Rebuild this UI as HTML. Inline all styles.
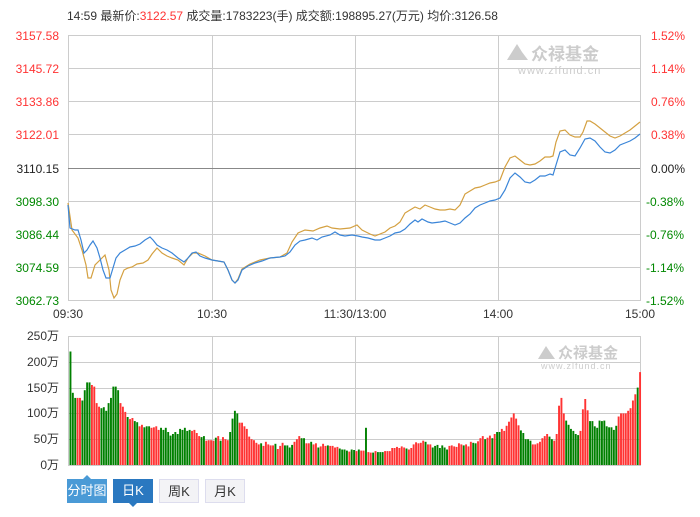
<!DOCTYPE html>
<html><head><meta charset="utf-8"><style>
html,body{margin:0;padding:0;background:#fff;width:700px;height:517px;overflow:hidden}
svg{display:block;font-family:"Liberation Sans","Noto Sans CJK SC",sans-serif}
.btn{position:absolute;top:479px;height:24px;width:40px;font:13px "Liberation Sans","Noto Sans CJK SC",sans-serif;line-height:24px;text-align:center;box-sizing:border-box}
</style></head><body>
<svg id="s" width="700" height="517" viewBox="0 0 700 517">
<text x="67" y="20" font-size="12" fill="#333">14:59 最新价:<tspan fill="#f33">3122.57</tspan> 成交量:1783223(手) 成交额:198895.27(万元) 均价:3126.58</text>
<g stroke="#ccc" stroke-width="1">
<line x1="68" y1="35.5" x2="640" y2="35.5"/><line x1="68" y1="68.5" x2="640" y2="68.5"/><line x1="68" y1="101.5" x2="640" y2="101.5"/><line x1="68" y1="134.5" x2="640" y2="134.5"/>
<line x1="68" y1="201.5" x2="640" y2="201.5"/><line x1="68" y1="234.5" x2="640" y2="234.5"/><line x1="68" y1="267.5" x2="640" y2="267.5"/><line x1="68" y1="300.5" x2="640" y2="300.5"/>
<line x1="68.5" y1="35" x2="68.5" y2="301"/><line x1="212.5" y1="35" x2="212.5" y2="301"/><line x1="355.5" y1="35" x2="355.5" y2="301"/><line x1="498.5" y1="35" x2="498.5" y2="301"/><line x1="640.5" y1="35" x2="640.5" y2="301"/>
<line x1="68" y1="336.5" x2="640" y2="336.5"/><line x1="68" y1="362.5" x2="640" y2="362.5"/><line x1="68" y1="388.5" x2="640" y2="388.5"/><line x1="68" y1="413.5" x2="640" y2="413.5"/><line x1="68" y1="439.5" x2="640" y2="439.5"/><line x1="68" y1="465.5" x2="640" y2="465.5"/>
<line x1="68.5" y1="336" x2="68.5" y2="466"/><line x1="212.5" y1="336" x2="212.5" y2="466"/><line x1="355.5" y1="336" x2="355.5" y2="466"/><line x1="498.5" y1="336" x2="498.5" y2="466"/><line x1="640.5" y1="336" x2="640.5" y2="466"/>
</g>
<line x1="68" y1="168.5" x2="640" y2="168.5" stroke="#888"/>
<g font-size="12" text-anchor="end">
<text x="59" y="40" fill="#f33">3157.58</text><text x="59" y="73" fill="#f33">3145.72</text><text x="59" y="106" fill="#f33">3133.86</text><text x="59" y="139" fill="#f33">3122.01</text>
<text x="59" y="173" fill="#222">3110.15</text><text x="59" y="206" fill="#080">3098.30</text><text x="59" y="239" fill="#080">3086.44</text><text x="59" y="272" fill="#080">3074.59</text><text x="59" y="305" fill="#080">3062.73</text>
</g>
<g font-size="12">
<text x="651" y="40" fill="#f33">1.52%</text><text x="651" y="73" fill="#f33">1.14%</text><text x="651" y="106" fill="#f33">0.76%</text><text x="651" y="139" fill="#f33">0.38%</text>
<text x="651" y="173" fill="#222">0.00%</text><text x="646" y="206" fill="#080">-0.38%</text><text x="646" y="239" fill="#080">-0.76%</text><text x="646" y="272" fill="#080">-1.14%</text><text x="646" y="305" fill="#080">-1.52%</text>
</g>
<g font-size="12" fill="#333" text-anchor="middle">
<text x="68" y="318">09:30</text><text x="212" y="318">10:30</text><text x="355" y="318">11:30/13:00</text><text x="498" y="318">14:00</text><text x="640" y="318">15:00</text>
</g>
<g font-size="12" fill="#333" text-anchor="end">
<text x="59" y="340">250万</text><text x="59" y="366">200万</text><text x="59" y="392">150万</text><text x="59" y="417">100万</text><text x="59" y="443">50万</text><text x="59" y="469">0万</text>
</g>
<g fill="#ccc"><path d="M507 60 L517 44 L522 52 L528 60 Z M512 60 L518 50"/>
<text x="531" y="60" font-size="17" font-weight="bold">众禄基金</text>
<text x="518" y="74" font-size="11" letter-spacing="1">www.zlfund.cn</text>
<path d="M538 359 L546 346 L550 352 L555 359 Z"/>
<text x="558" y="358" font-size="15" font-weight="bold">众禄基金</text>
<text x="541" y="369" font-size="9" letter-spacing="1">www.zlfund.cn</text></g>
<g id="bars"></g>
<polyline id="avg" fill="none" stroke="#d4a040" stroke-width="1.2"/>
<polyline id="pr" fill="none" stroke="#3a85d8" stroke-width="1.2"/>
</svg>
<div class="btn" style="left:67px;background:#4a9ad6;color:#fff">分时图</div>
<div style="position:absolute;left:83px;top:475px;width:0;height:0;border:4px solid transparent;border-top:0;border-bottom-color:#4a9ad6"></div>
<div class="btn" style="left:113px;background:#2a78c0;color:#fff">日K</div>
<div style="position:absolute;left:129px;top:503px;width:0;height:0;border:4px solid transparent;border-bottom:0;border-top-color:#2a78c0"></div>
<div class="btn" style="left:159px;background:#f3f3f6;border:1px solid #dde;color:#333">周K</div>
<div class="btn" style="left:205px;background:#f3f3f6;border:1px solid #dde;color:#333">月K</div>
<script>
var pr="68,205 70,228 75,230 78,230 81,240 84,253 87,250 90,245 93,241 97,248 100,258 103,270 106,278 110,278 113,268 116,258 120,253 125,250 130,247 135,246 140,244 145,240 150,237 153,240 157,245 162,248 167,250 172,253 178,258 184,262 188,258 192,253 196,252 200,256 205,258 212,260 218,261 224,262 228,270 232,280 235,283 238,280 242,270 248,266 255,263 262,261 270,258 280,257 285,256 290,252 295,245 300,241 305,240 312,238 317,240 322,237 330,235 335,232 340,235 345,236 352,235 358,236 362,237 368,238 375,240 380,240 385,238 390,236 395,233 400,232 405,229 410,224 415,220 418,222 422,219 428,222 432,223 440,222 445,221 450,223 455,225 460,223 465,218 470,214 475,208 480,205 485,203 490,201 495,200 500,198 505,190 510,178 515,173 520,177 525,182 530,183 535,180 540,176 545,176 550,174 553,175 556,165 560,152 565,150 570,155 575,156 580,148 585,139 590,138 595,141 600,147 605,152 610,153 615,150 620,145 625,143 630,141 635,138 640,134";
var av="68,203 72,230 78,238 82,250 86,265 88,278 91,278 95,265 100,260 105,255 109,270 111,290 114,298 117,294 120,280 124,270 128,268 132,267 137,264 143,263 148,260 152,254 157,248 162,253 167,256 172,258 178,260 184,265 188,258 193,253 198,253 205,256 212,260 218,261 224,262 228,270 232,280 235,283 238,279 242,269 250,264 260,260 270,258 280,257 287,253 292,242 298,233 305,230 313,231 320,228 327,226 332,228 340,229 350,228 357,225 362,230 370,234 375,236 380,234 385,232 390,228 395,226 400,222 405,213 410,210 415,207 420,209 425,205 430,207 435,209 440,210 445,210 450,209 455,210 460,205 465,194 470,191 475,188 480,187 485,185 490,183 495,182 500,180 505,167 510,158 515,156 520,160 525,164 530,165 535,164 540,161 545,157 550,157 553,156 556,142 560,131 565,130 570,135 575,137 580,137 583,132 587,121 590,121 595,124 600,128 605,132 610,136 615,138 620,136 625,133 630,130 635,126 640,122";
document.getElementById('pr').setAttribute('points',pr);
document.getElementById('avg').setAttribute('points',av);
var d="220G 140G 130G 130R 130R 125G 145G 160G 160G 155R 152R 120R 113R 110G 112G 105G 120G 130G 152G 152G 145G 120R 113R 103R 93G 89R 91R 85G 83G 75R 78R 73G 75G 75G 72R 73R 75R 68R 72G 68G 72G 64G 57G 60G 64G 60G 70G 68G 72G 66G 68G 66R 68R 62R 56R 54G 56G 47R 48R 48R 47R 53G 56R 47G 54R 50R 48R 64G 90G 105G 100G 82R 82R 75R 70R 55R 50R 48R 43R 40R 42G 37R 45R 40R 38R 38R 41G 31R 37R 43R 38G 38G 34G 39G 45R 50R 56R 52G 52G 42R 42R 45G 40R 42R 34G 36R 41R 37R 38G 37R 37R 34R 35R 32G 30G 30G 28G 26R 30G 29G 27R 30G 28R 28R 72G 25R 24R 24G 27R 25G 25G 25G 27R 27R 27R 33R 33R 35R 33R 36R 34R 32G 30R 33R 40R 44R 42R 43R 47R 45G 40R 40R 34G 37G 39G 33G 38G 34G 30G 37R 38R 36R 35R 42R 40R 38G 40R 36R 45R 43G 42G 46R 52R 56R 50G 53R 57R 52G 60R 64G 64G 70R 66R 76R 84R 92R 100R 90R 77R 67G 62G 50G 50G 47G 40R 40R 42R 45R 52R 56R 60R 55G 50G 47R 60R 115R 130R 100R 86G 78G 70G 66G 60G 58G 66R 108R 128R 106R 85G 85G 75G 72G 86G 85G 86G 75G 73G 73G 68G 76G 94R 100R 100R 100R 105R 110R 125R 137R 150G 180R".split(" ");
var n=d.length,w=572/n,g=document.getElementById('bars'),h="";
for(var i=0;i<n;i++){var v=parseFloat(d[i]),c=d[i].slice(-1)=="G"?"#008000":"#f33";var hh=v*0.516;var x=69.5+i*w;h+='<rect x="'+x.toFixed(2)+'" y="'+(465-hh).toFixed(1)+'" width="'+(w*0.8).toFixed(2)+'" height="'+hh.toFixed(1)+'" fill="'+c+'"/>';}
g.innerHTML=h;
</script>
</body></html>
